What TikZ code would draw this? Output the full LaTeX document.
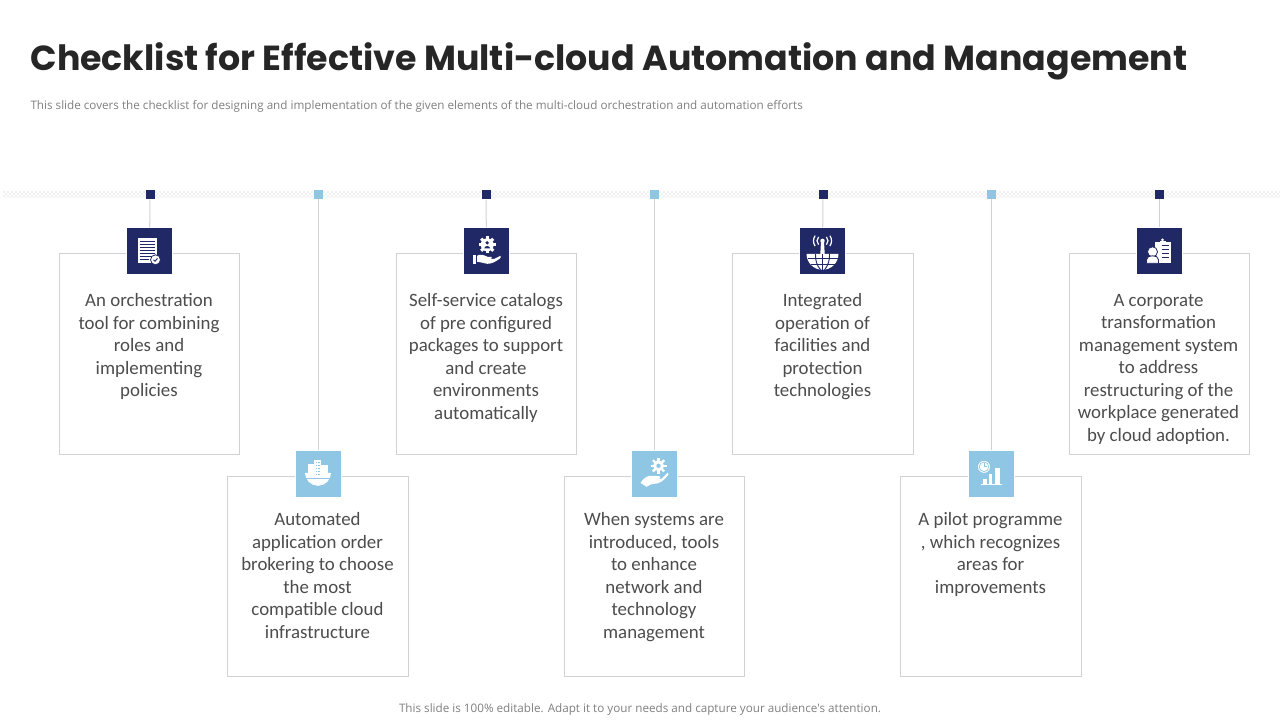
\documentclass[tikz,border=0pt]{standalone}
\usepackage{fontspec}
\setmainfont{Carlito}
\newfontfamily\titlefont{Poppins}
\newfontfamily\notefont{Open Sans}
\usetikzlibrary{patterns}
\definecolor{navybox}{RGB}{32,40,102}
\definecolor{skybox}{RGB}{142,198,227}
\definecolor{rulegrey}{RGB}{208,210,214}
\definecolor{bodygrey}{RGB}{77,77,77}
\definecolor{notegrey}{RGB}{127,127,127}
\definecolor{titleblack}{RGB}{38,38,38}
\tikzset{every picture/.style={line width=0.75pt},
	cardbox/.style={draw=rulegrey,fill=white,minimum width=135.5pt,minimum height=150.5pt,inner sep=0pt},
	iconbox/.style={minimum size=34.75pt,inner sep=0pt,draw=white,line width=0.4pt},
	markbox/.style={minimum size=6.75pt,inner sep=0pt},
	stem/.style={draw=rulegrey},
	cardtext/.style={align=center,text=bodygrey,font=\fontsize{14.15}{16.85}\selectfont,anchor=north},
	notetext/.style={inner sep=0pt,text=notegrey,font=\notefont\fontsize{8.76}{10}\selectfont},
	glyph/.style={fill=white,draw=none}
}
\begin{document}
\begin{tikzpicture}[x=0.75pt,y=0.75pt,yscale=-1]
	\useasboundingbox (0,0) rectangle (1280,720);

	%Shape: Band
	\path [pattern=crosshatch dots,pattern color=black!25] (3,191.5) rectangle (1280,197.5);

	% Markers
	\node [markbox,fill=navybox] (mark1) at (150,194.5) {};
	\node [markbox,fill=skybox] (mark2) at (318,194.5) {};
	\node [markbox,fill=navybox] (mark3) at (486,194.5) {};
	\node [markbox,fill=skybox] (mark4) at (654.5,194.5) {};
	\node [markbox,fill=navybox] (mark5) at (823,194.5) {};
	\node [markbox,fill=skybox] (mark6) at (991,194.5) {};
	\node [markbox,fill=navybox] (mark7) at (1159.5,194.5) {};

	% Cards
	\node [cardbox] (card1) at (149.5,354) {};
	\node [cardbox] (card2) at (318,576.5) {};
	\node [cardbox] (card3) at (486.5,354) {};
	\node [cardbox] (card4) at (654.5,576.5) {};
	\node [cardbox] (card5) at (823,354) {};
	\node [cardbox] (card6) at (991,576.5) {};
	\node [cardbox] (card7) at (1159.5,354) {};

	% Icon boxes
	\node [iconbox,fill=navybox] (icon1) at (149.5,250.8) {};
	\node [iconbox,fill=skybox] (icon2) at (318,473.8) {};
	\node [iconbox,fill=navybox] (icon3) at (486.5,250.8) {};
	\node [iconbox,fill=skybox] (icon4) at (654.5,473.8) {};
	\node [iconbox,fill=navybox] (icon5) at (822.5,250.8) {};
	\node [iconbox,fill=skybox] (icon6) at (991,473.8) {};
	\node [iconbox,fill=navybox] (icon7) at (1159.5,250.8) {};

	%Straight Lines
	\draw [stem] (mark1) -- (icon1);
	\draw [stem] (mark2) -- (icon2);
	\draw [stem] (mark3) -- (icon3);
	\draw [stem] (mark4) -- (icon4);
	\draw [stem] (mark5) -- (icon5);
	\draw [stem] (mark6) -- (icon6);
	\draw [stem] (mark7) -- (icon7);

	%Shape: Document icon
	\begin{scope}[shift={(icon1.center)}]
		\fill [glyph] (-11.5,-13) rectangle (7,12);
		\foreach \y in {-9,-6,-3,0,3,6}
			\draw [navybox,line width=0.6pt] (-10,\y) -- (5.5,\y);
		\draw [navybox,line width=0.6pt] (-10,9) -- (-1,9);
		\draw [glyph,draw=navybox,line width=0.6pt] (6,9) circle (5);
		\draw [navybox,line width=0.7pt] (4,9) -- (5.5,10.5) -- (8,7.5);
	\end{scope}

	%Shape: Building globe icon
	\begin{scope}[shift={(icon2.center)}]
		\fill [glyph] (-10,-10) rectangle (-4,5);
		\fill [glyph] (-4,-14) rectangle (3,5);
		\fill [glyph] (3,-9) rectangle (10,5);
		\fill [glyph] (-13,-1) -- (13,-1) arc (0:180:13) -- cycle;
		\foreach \y in {-11,-8,-5,-2,1}
			\draw [skybox,line width=0.7pt,dash pattern=on 1pt off 1pt] (-2.5,\y) -- (1.5,\y);
		\draw [skybox,line width=0.5pt] (-12,5) -- (12,5);
	\end{scope}

	%Shape: Gear hand icon
	\begin{scope}[shift={(icon3.center)}]
		\foreach \a in {0,45,...,315}
			\fill [glyph,rotate around={\a:(0.7,-6)}] (-0.8,-14.5) rectangle (2.2,-11);
		\fill [glyph] (0.7,-6) circle (6.5);
		\fill [navybox] (0.7,-8) circle (1.8);
		\fill [navybox] (-2.2,-2.5) .. controls (-2,-5.5) and (3.4,-5.5) .. (3.6,-2.5) -- cycle;
		\fill [glyph] (-14,4) rectangle (-10.5,13);
		\fill [glyph] (-9.5,5) .. controls (-6,3) and (-3,4) .. (1,6) -- (5,6) .. controls (6,7) and (5,8) .. (3,8) -- (8,8) -- (14,5) .. controls (15,6) and (14,7) .. (13,8) .. controls (9,11) and (5,13) .. (1,13) .. controls (-3,12.5) and (-6,11) .. (-9.5,11) -- cycle;
	\end{scope}

	%Shape: Gear hand icon
	\begin{scope}[shift={(icon4.center)}]
		\foreach \a in {0,45,...,315}
			\fill [glyph,rotate around={\a:(4,-8)}] (2.8,-16) rectangle (5.2,-12.5);
		\fill [glyph] (4,-8) circle (5.5);
		\fill [skybox] (4,-8) circle (2.2);
		\fill [glyph] (-14,9) .. controls (-11,4) and (-6,1) .. (-1,2) -- (5,2.5) .. controls (7,3) and (6,5) .. (3,5) -- (7,5) -- (13,-1) .. controls (15,-1) and (14,1) .. (13,2) .. controls (9,7) and (5,10) .. (0,10) .. controls (-3,10) and (-5,11) .. (-8,13) -- cycle;
	\end{scope}

	%Shape: Antenna globe icon
	\begin{scope}[shift={(icon5.center)}]
		\fill [glyph] (0,-10) circle (2.2);
		\draw [white,line width=0.9pt] (-3.9,-6.1) arc (135:225:5.5);
		\draw [white,line width=0.9pt] (3.9,-6.1) arc (45:-45:5.5);
		\draw [white,line width=0.9pt] (-7.4,-4.8) arc (145:215:9);
		\draw [white,line width=0.9pt] (7.4,-4.8) arc (35:-35:9);
		\fill [glyph] (-1.5,-9) -- (1.5,-9) -- (2.2,3) -- (-2.2,3) -- cycle;
		\fill [glyph] (-16,3) -- (16,3) arc (0:180:16) -- cycle;
		\draw [navybox,line width=0.7pt] (-15,8) -- (15,8) (-12,14) -- (12,14) (0,3) -- (0,19);
		\draw [navybox,line width=0.7pt] (-7,3) .. controls (-7.5,9) and (-5.5,15) .. (-2,19) (7,3) .. controls (7.5,9) and (5.5,15) .. (2,19);
	\end{scope}

	%Shape: Clock chart icon
	\begin{scope}[shift={(icon6.center)}]
		\fill [glyph] (-7,-7) circle (6);
		\draw [skybox,line width=0.5pt] (-7,-7) circle (4.8);
		\draw [skybox,line width=0.6pt] (-7,-10.5) -- (-7,-7) -- (-4,-7);
		\fill [glyph] (-8,5) rectangle (-4,10);
		\fill [glyph] (-2.5,0) rectangle (1,10);
		\fill [glyph] (4,-6) rectangle (8.5,10);
		\draw [white,line width=0.9pt] (-10,11) -- (11,11);
	\end{scope}

	%Shape: Clipboard person icon
	\begin{scope}[shift={(icon7.center)}]
		\fill [glyph] (-5,-9) rectangle (11,12);
		\fill [glyph] (0,-10) rectangle (6,-8);
		\fill [glyph] (3,-11) circle (1.5);
		\foreach \y in {-5,-1,3,7}
			\draw [navybox,line width=0.6pt] (2,\y) -- (9,\y);
		\draw [glyph,draw=navybox,line width=0.6pt] (-7,1) circle (5);
		\draw [glyph,draw=navybox,line width=0.6pt] (-13,12.5) -- (-13,9) .. controls (-13,6) and (-10,5) .. (-7,5) .. controls (-4,5) and (-1,6) .. (-1,9) -- (-1,12.5) -- cycle;
	\end{scope}

	% Text Node
	\node [anchor=west,inner sep=0pt,text=titleblack,font=\titlefont\bfseries\fontsize{26.1}{32}\selectfont] (title) at (30,61.5) {Checklist for Effective Multi-cloud Automation and Management};
	% Text Node
	\node [anchor=west,notetext] (subtitle) at (30,106) {This slide covers the checklist for designing and implementation of the given elements of the  multi-cloud orchestration and automation efforts};
	% Text Node
	\node [cardtext] (text1) at (149,288.8) {An orchestration\\tool for combining\\roles and\\implementing\\policies};
	% Text Node
	\node [cardtext] (text2) at (317.5,507.8) {Automated\\application order\\brokering to choose\\the most\\compatible cloud\\infrastructure};
	% Text Node
	\node [cardtext] (text3) at (486,288.8) {Self-service catalogs\\of pre configured\\packages to support\\and create\\environments\\automatically};
	% Text Node
	\node [cardtext] (text4) at (654,507.8) {When systems are\\introduced, tools\\to enhance\\network and\\technology\\management};
	% Text Node
	\node [cardtext] (text5) at (822.5,288.8) {Integrated\\operation of\\facilities and\\protection\\technologies};
	% Text Node
	\node [cardtext] (text6) at (990.5,507.8) {A pilot programme\\, which recognizes\\areas for\\improvements};
	% Text Node
	\node [cardtext] (text7) at (1158.5,289.4) {A corporate\\transformation\\management system\\to address\\restructuring of the\\workplace generated\\by cloud adoption.};
	% Text Node
	\node [notetext] (footer) at (640,709) {This slide is 100\% editable. Adapt it to your needs and capture your audience's attention.};
\end{tikzpicture}
\end{document}
